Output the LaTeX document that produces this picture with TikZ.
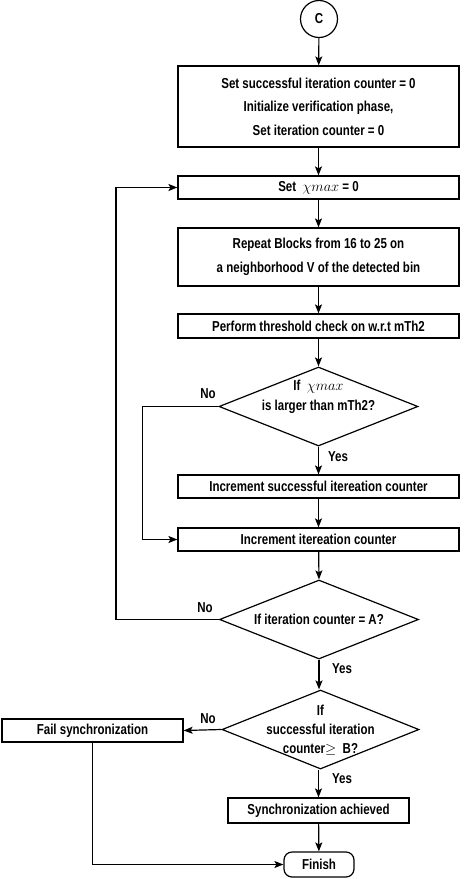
\documentclass[tikz,border=0pt]{standalone}
\usepackage{fontspec}
\setmainfont{Liberation Sans}[FakeStretch=0.8]
\usetikzlibrary{shapes.geometric,arrows.meta}

\tikzset{
  box/.style={draw,line width=1.2pt,minimum width=281pt,align=center,inner sep=0pt},
  dia/.style={draw,diamond,line width=1.2pt,inner sep=0pt,minimum width=199pt,minimum height=79pt},
  arr/.style={-{Stealth[length=9pt,width=7pt,inset=2pt]},line width=1.2pt},
  txt/.style={align=center,inner sep=0pt,font=\fontsize{14.4}{20}\selectfont\bfseries}
}

\begin{document}
\begin{tikzpicture}[x=1pt,y=-1pt,font=\fontsize{14.4}{23.5}\selectfont\bfseries]
\useasboundingbox (0,0) rectangle (474,879);

% Start connector
\node[draw,circle,line width=1.2pt,minimum size=37pt,inner sep=0pt] (c) at (319,19) {C};

% Initialisation
\node[box,minimum height=81pt] (init) at (318.5,106.5)
  {Set successful iteration counter = 0\\Initialize verification phase,\\Set iteration counter = 0};
\node[box,minimum height=23pt] (setx) at (318.5,187.5) {Set~~$\chi max$ = 0};
\node[box,minimum height=58pt] (rep) at (318.5,257)
  {Repeat Blocks from 16 to 25 on\\a neighborhood V of the detected bin};
\node[box,minimum height=24pt] (thr) at (318.5,326) {Perform threshold check on w.r.t mTh2};

% First test
\node[dia] (d1) at (318.5,406.5) {};
\node[txt] (d1t) at (318.5,397) {If~~$\chi max$\\is larger than mTh2?};
\node[box,minimum height=23pt] (inc1) at (318.5,486.5) {Increment successful itereation counter};
\node[box,minimum height=23pt] (inc2) at (318.5,539.5) {Increment itereation counter};

% Second and third tests
\node[dia] (d2) at (319,619.5) {};
\node[txt] (d2t) at (319,619.5) {If iteration counter = A?};
\node[dia,minimum width=197pt] (d3) at (320.5,729.5) {};
\node[txt,font=\fontsize{14.4}{19}\selectfont\bfseries] (d3t) at (320.5,730)
  {If\\successful iteration\\counter$\geq$~~B?};

% Outcomes
\node[box,minimum width=181pt,minimum height=23pt] (fail) at (92.5,730.5) {Fail synchronization};
\node[box,minimum width=181pt,minimum height=25pt] (ach) at (318.5,810.5) {Synchronization achieved};
\node[box,minimum width=70pt,minimum height=25pt,rounded corners=8pt] (fin) at (319,864.5) {Finish};

% Branch labels
\node (no1) at (208,394) {No};
\node (yes1) at (338,457) {Yes};
\node (no2) at (205,608) {No};
\node (yes2) at (342,669) {Yes};
\node (no3) at (208,719) {No};
\node (yes3) at (342,779) {Yes};

% Connectors
\draw[arr] (c) -- (init);
\draw[arr] (init) -- (setx);
\draw[arr] (setx) -- (rep);
\draw[arr] (rep) -- (thr);
\draw[arr] (thr) -- (d1.north);
\draw[arr] (d1.south) -- (inc1);
\draw[arr] (inc1) -- (inc2);
\draw[arr] (d1.west) -- ++(-76,0) |- (inc2.west);
\draw[arr] (inc2) -- (d2.north);
\draw[arr] (d2.west) -- ++(-103,0) |- (setx.west);
\draw[arr] (d2.south) -- (d3.north -| d2.south);
\draw[arr] (d3.west) -- (fail.east);
\draw[arr] (d3.south -| ach.north) -- (ach.north);
\draw[arr] (ach) -- (fin);
\draw[arr] (fail.south) |- (fin.west);
\end{tikzpicture}
\end{document}
